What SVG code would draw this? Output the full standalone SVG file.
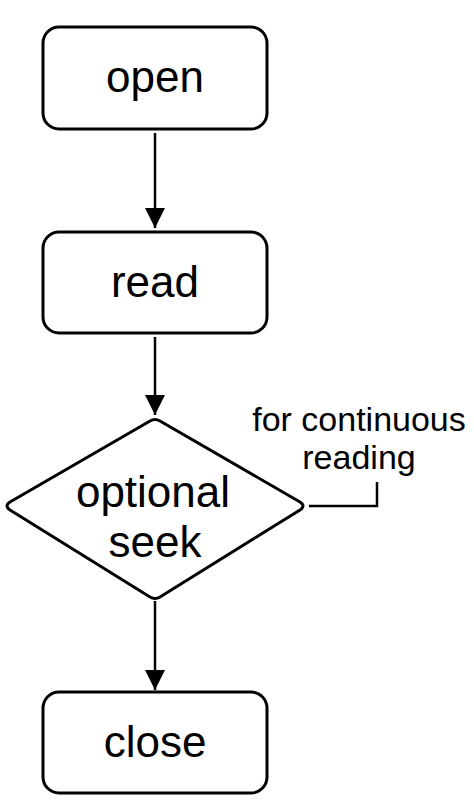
<svg xmlns="http://www.w3.org/2000/svg" width="474" height="807" viewBox="0 0 474 807">
<style>
.box{fill:#fff;stroke:#000;stroke-width:3}
.lbl{font-family:"Liberation Sans",Arial,sans-serif;font-size:44px;fill:#000;text-anchor:middle}
.note{font-family:"Liberation Sans",Arial,sans-serif;font-size:34px;fill:#000;text-anchor:middle}
.edge{fill:none;stroke:#000;stroke-width:2.5}
</style>
<defs>
<marker id="ah" viewBox="0 0 20 20" refX="20" refY="10" markerWidth="20" markerHeight="20" markerUnits="userSpaceOnUse" orient="auto">
<path d="M0,0 L20,10 L0,20 Z" fill="#000"/>
</marker>
</defs>
<rect width="474" height="807" fill="#fff"/>
<g id="connectors">
<line class="edge" x1="155" y1="133" x2="155" y2="228" marker-end="url(#ah)"/>
<line class="edge" x1="155" y1="337" x2="155" y2="415" marker-end="url(#ah)"/>
<line class="edge" x1="155" y1="601" x2="155" y2="690" marker-end="url(#ah)"/>
<polyline class="edge" points="309,506 377,506 377,482"/>
</g>
<g id="open">
<rect class="box" x="43" y="27" width="224" height="102" rx="16"/>
<text class="lbl" x="155" y="92">open</text>
</g>
<g id="read">
<rect class="box" x="43" y="232" width="224" height="101" rx="16"/>
<text class="lbl" x="155" y="297">read</text>
</g>
<g id="seek">
<path class="box" stroke-linejoin="round" d="M150,421 Q155,418 160,421 L300,502 Q306,506 300,510 L160,597 Q155,600 150,597 L10,510 Q4,506 10,502 Z"/>
<text class="lbl" x="153" y="507">optional</text>
<text class="lbl" x="155" y="557">seek</text>
</g>
<g id="note">
<text class="note" x="359" y="431">for continuous</text>
<text class="note" x="359" y="469">reading</text>
</g>
<g id="close">
<rect class="box" x="43" y="692" width="224" height="101" rx="16"/>
<text class="lbl" x="155" y="757">close</text>
</g>
</svg>
